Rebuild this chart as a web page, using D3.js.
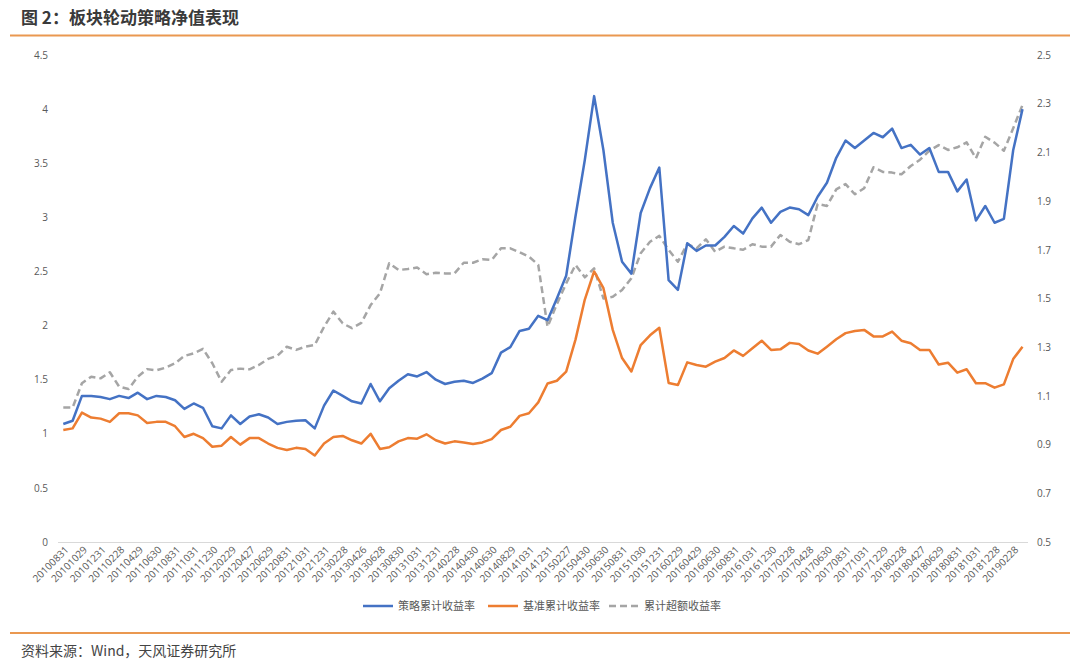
<!DOCTYPE html>
<html>
<head>
<meta charset="utf-8">
<script src="https://cdn.jsdelivr.net/npm/d3@7"></script>
<style>
  body { margin: 0; background: #fff; }
  svg { display: block; font-family: "Noto Sans CJK SC", "Noto Sans", sans-serif; }
</style>
</head>
<body>
<div id="chart"></div>
<script>
'use strict'

// month-end dates
const dates = [
  '20100831','20100930','20101029','20101130','20101231',
  '20110131','20110228','20110331','20110429','20110531','20110630','20110729','20110831','20110930','20111031','20111130','20111230',
  '20120131','20120229','20120330','20120427','20120531','20120629','20120731','20120831','20120928','20121031','20121130','20121231',
  '20130131','20130228','20130329','20130426','20130531','20130628','20130731','20130830','20130930','20131031','20131129','20131231',
  '20140130','20140228','20140331','20140430','20140530','20140630','20140731','20140829','20140930','20141031','20141128','20141231',
  '20150130','20150227','20150331','20150430','20150529','20150630','20150731','20150831','20150930','20151030','20151130','20151231',
  '20160129','20160229','20160331','20160429','20160531','20160630','20160729','20160831','20160930','20161031','20161130','20161230',
  '20170126','20170228','20170331','20170428','20170531','20170630','20170731','20170831','20170929','20171031','20171130','20171229',
  '20180131','20180228','20180330','20180427','20180531','20180629','20180731','20180831','20180928','20181031','20181130','20181228',
  '20190131','20190228','20190329'
]

// labels shown on the x axis
const tickLabels = [
  '20100831','20101029','20101231','20110228','20110429','20110630','20110831','20111031','20111230',
  '20120229','20120427','20120629','20120831','20121031','20121231','20130228','20130426','20130628',
  '20130830','20131031','20131231','20140228','20140430','20140630','20140829','20141031','20141231',
  '20150227','20150430','20150630','20150831','20151030','20151231','20160229','20160429','20160630',
  '20160831','20161031','20161230','20170228','20170428','20170630','20170831','20171031','20171229',
  '20180228','20180427','20180629','20180831','20181031','20181228','20190228'
]

// 策略累计收益率 (left axis)
const strategy = [
  1.09,1.12,1.35,1.35,1.34,1.32,1.35,1.33,1.38,1.32,1.35,1.34,1.31,1.23,1.28,1.24,1.07,1.05,
  1.17,1.09,1.16,1.18,1.15,1.09,1.11,1.12,1.125,1.05,1.26,1.40,1.35,1.30,1.28,1.46,1.30,1.42,
  1.49,1.55,1.53,1.57,1.50,1.46,1.48,1.49,1.47,1.51,1.56,1.75,1.80,1.95,1.97,2.09,2.05,2.25,
  2.46,3.01,3.53,4.12,3.62,2.95,2.59,2.48,3.04,3.27,3.46,2.42,2.33,2.76,2.69,2.74,2.74,2.82,
  2.92,2.85,2.99,3.09,2.95,3.05,3.09,3.075,3.02,3.19,3.32,3.55,3.71,3.64,3.71,3.78,3.74,3.82,
  3.64,3.67,3.58,3.64,3.42,3.42,3.24,3.35,2.97,3.105,2.95,2.985,3.62,4.00
]

// 基准累计收益率 (left axis)
const benchmark = [
  1.035,1.05,1.195,1.15,1.14,1.11,1.19,1.19,1.17,1.10,1.11,1.11,1.07,0.97,1.00,0.96,0.88,0.89,
  0.97,0.90,0.96,0.96,0.91,0.87,0.85,0.87,0.86,0.80,0.91,0.97,0.98,0.94,0.91,1.00,0.86,0.875,
  0.93,0.96,0.955,0.995,0.94,0.91,0.93,0.92,0.905,0.92,0.95,1.035,1.065,1.165,1.19,1.29,1.465,1.49,
  1.575,1.87,2.24,2.50,2.345,1.96,1.70,1.575,1.82,1.91,1.98,1.47,1.45,1.66,1.635,1.62,1.666,1.70,
  1.77,1.72,1.79,1.86,1.775,1.78,1.84,1.83,1.77,1.74,1.805,1.873,1.93,1.95,1.96,1.90,1.90,1.944,
  1.86,1.836,1.775,1.775,1.64,1.657,1.565,1.596,1.467,1.467,1.426,1.457,1.69,1.805
]

// 累计超额收益率 (right axis)
const excess = [
  1.052,1.052,1.152,1.179,1.172,1.197,1.138,1.128,1.179,1.21,1.205,1.216,1.234,1.264,1.275,1.293,1.234,1.158,
  1.206,1.212,1.209,1.227,1.252,1.265,1.302,1.289,1.302,1.309,1.384,1.446,1.398,1.378,1.40,1.473,1.521,1.645,
  1.617,1.621,1.627,1.60,1.606,1.603,1.603,1.647,1.647,1.661,1.658,1.706,1.706,1.69,1.672,1.638,1.384,1.477,
  1.562,1.638,1.587,1.624,1.50,1.507,1.535,1.583,1.686,1.733,1.757,1.70,1.651,1.724,1.706,1.743,1.692,1.713,
  1.706,1.70,1.723,1.713,1.713,1.761,1.733,1.723,1.74,1.888,1.88,1.948,1.97,1.928,1.953,2.039,2.02,2.017,
  2.01,2.044,2.07,2.107,2.13,2.11,2.121,2.141,2.076,2.164,2.14,2.107,2.199,2.295
]

const leftTicks = [0, 0.5, 1, 1.5, 2, 2.5, 3, 3.5, 4, 4.5]
const rightTicks = [0.5, 0.7, 0.9, 1.1, 1.3, 1.5, 1.7, 1.9, 2.1, 2.3, 2.5]

const seriesNames = ['策略累计收益率', '基准累计收益率', '累计超额收益率']
const colors = ['#4472C4', '#ED7D31', '#A5A5A5']

////////////////////////////////////
//////////// svg setup /////////////
////////////////////////////////////

const svgWidth = 1080
const svgHeight = 667

const svg = d3.select('#chart').append('svg')
    .attr('width', svgWidth)
    .attr('height', svgHeight)

// title + rules
svg.append('text')
    .attr('x', 21).attr('y', 24)
    .attr('font-size', 17).attr('font-weight', 'bold')
    .attr('fill', '#3a3a3a')
    .text('图 2：板块轮动策略净值表现')

svg.append('line')
    .attr('x1', 10).attr('x2', 1070).attr('y1', 35.5).attr('y2', 35.5)
    .attr('stroke', '#EA9850').attr('stroke-width', 2)

svg.append('line')
    .attr('x1', 10).attr('x2', 1070).attr('y1', 633).attr('y2', 633)
    .attr('stroke', '#EA9850').attr('stroke-width', 2)

svg.append('text')
    .attr('x', 21).attr('y', 656)
    .attr('font-size', 14)
    .attr('fill', '#444')
    .text('资料来源：Wind，天风证券研究所')

////////////////////////////////////
//////////////scales////////////////
////////////////////////////////////

const plotTop = 55, plotBottom = 542

const xScale = d3.scalePoint()
    .domain(dates)
    .range([63.3, 1022.5])

const yLeft = d3.scaleLinear()
    .domain([0, 4.5])
    .range([plotBottom, plotTop])

const yRight = d3.scaleLinear()
    .domain([0.5, 2.5])
    .range([plotBottom, plotTop])

// baseline
svg.append('line')
    .attr('x1', 58).attr('x2', 1028)
    .attr('y1', plotBottom + 0.5).attr('y2', plotBottom + 0.5)
    .attr('stroke', '#D9D9D9').attr('stroke-width', 1)

// left axis
const leftAxis = svg.append('g')
    .attr('transform', 'translate(48,0)')
    .call(d3.axisLeft(yLeft).tickValues(leftTicks).tickSize(0).tickPadding(0).tickFormat(d3.format('')))
leftAxis.select('.domain').remove()
leftAxis.selectAll('text').attr('font-size', 10).attr('fill', '#595959')
    .attr('font-family', '"Open Sans", "Noto Sans", sans-serif')

// right axis
const rightAxis = svg.append('g')
    .attr('transform', 'translate(1037,0)')
    .call(d3.axisRight(yRight).tickValues(rightTicks).tickSize(0).tickPadding(0).tickFormat(d3.format('')))
rightAxis.select('.domain').remove()
rightAxis.selectAll('text').attr('font-size', 10).attr('fill', '#595959')
    .attr('font-family', '"Open Sans", "Noto Sans", sans-serif')

// x axis labels
const xAxis = svg.append('g')
    .attr('transform', 'translate(0,' + (plotBottom + 6) + ')')
    .call(d3.axisBottom(xScale).tickValues(tickLabels).tickSize(0).tickPadding(0))
xAxis.select('.domain').remove()
xAxis.selectAll('text')
    .attr('font-size', 10).attr('fill', '#595959')
    .attr('font-family', '"Open Sans", "Noto Sans", sans-serif')
    .attr('text-anchor', 'end')
    .attr('dy', '0.35em')
    .attr('transform', 'translate(3,0) rotate(-45)')

////////////////////////////////////
//////////////lines/////////////////
////////////////////////////////////

const lineLeft = d3.line()
    .x((d, i) => xScale(dates[i]))
    .y(d => yLeft(d))

const lineRight = d3.line()
    .x((d, i) => xScale(dates[i]))
    .y(d => yRight(d))

svg.append('path')
    .datum(excess)
    .attr('d', lineRight)
    .attr('fill', 'none')
    .attr('stroke', colors[2])
    .attr('stroke-width', 2.5)
    .attr('stroke-dasharray', '7,4')
    .attr('stroke-linejoin', 'round')

svg.append('path')
    .datum(benchmark)
    .attr('d', lineLeft)
    .attr('fill', 'none')
    .attr('stroke', colors[1])
    .attr('stroke-width', 2.5)
    .attr('stroke-linejoin', 'round')

svg.append('path')
    .datum(strategy)
    .attr('d', lineLeft)
    .attr('fill', 'none')
    .attr('stroke', colors[0])
    .attr('stroke-width', 2.5)
    .attr('stroke-linejoin', 'round')

////////////////////////////////////
//////////////legend////////////////
////////////////////////////////////

const legendX = [363, 488, 609]
const legend = svg.selectAll('.legend')
    .data(seriesNames)
    .enter()
    .append('g')
    .attr('class', 'legend')
    .attr('transform', (d, i) => 'translate(' + legendX[i] + ',606)')

legend.append('line')
    .attr('x1', 0).attr('x2', 30)
    .attr('stroke', (d, i) => colors[i])
    .attr('stroke-width', 2.5)
    .attr('stroke-dasharray', (d, i) => i == 2 ? '7,4' : null)

legend.append('text')
    .attr('x', 35).attr('dy', '0.35em')
    .attr('font-size', 11)
    .attr('fill', '#595959')
    .text(d => d)
</script>
</body>
</html>
